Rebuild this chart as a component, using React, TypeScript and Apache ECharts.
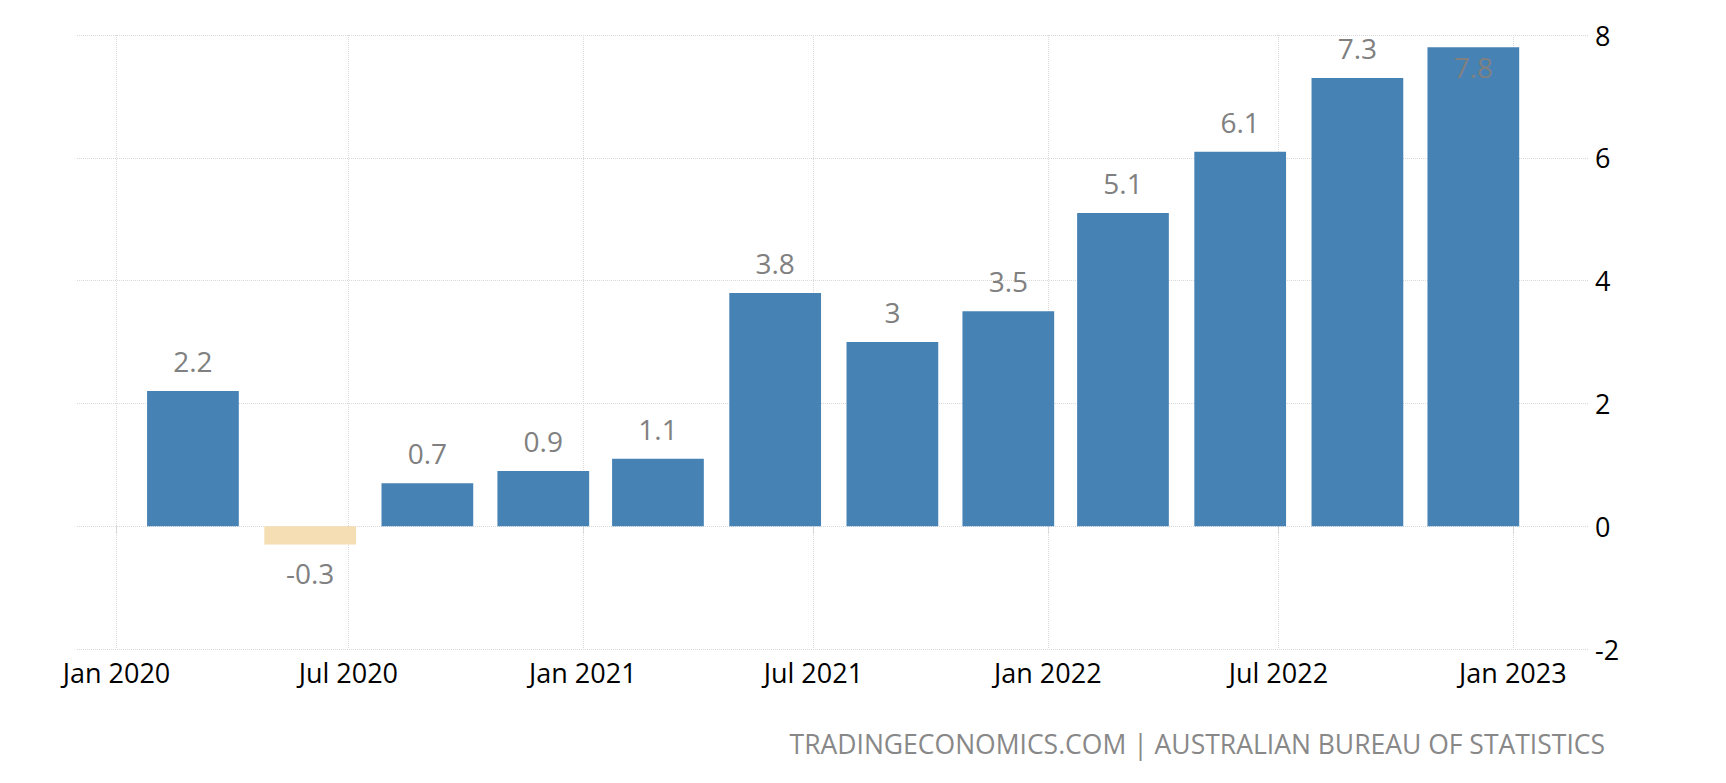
import { useEffect, useRef } from 'react';
import * as echarts from 'echarts';

// quarterly growth, bars sit on the first day of each quarter's last month
const quarters = [
  '2020-03', '2020-06', '2020-09', '2020-12',
  '2021-03', '2021-06', '2021-09', '2021-12',
  '2022-03', '2022-06', '2022-09', '2022-12',
];
const growth = [2.2, -0.3, 0.7, 0.9, 1.1, 3.8, 3.0, 3.5, 5.1, 6.1, 7.3, 7.8];

const xTickLabels = ['Jan 2020', 'Jul 2020', 'Jan 2021', 'Jul 2021', 'Jan 2022', 'Jul 2022', 'Jan 2023'];
const yTicks = [-2, 0, 2, 4, 6, 8];

const monthNames = ['Jan', 'Feb', 'Mar', 'Apr', 'May', 'Jun', 'Jul', 'Aug', 'Sep', 'Oct', 'Nov', 'Dec'];
const sourceText = 'TRADINGECONOMICS.COM | AUSTRALIAN BUREAU OF STATISTICS';

const FONT = '"Open Sans", "DejaVu Sans", sans-serif';

const toTime = (ym: string) => {
  const [y, m] = ym.split('-').map(Number);
  return new Date(y, m - 1, 1).getTime();
};

const tickToTime = (label: string) => {
  const [mon, year] = label.split(' ');
  return new Date(Number(year), monthNames.indexOf(mon), 1).getTime();
};

export default function App() {
  const chartRef = useRef<HTMLDivElement>(null);

  useEffect(() => {
    if (!chartRef.current) return;
    document.body.style.margin = '0';

    const yMax = yTicks[yTicks.length - 1];
    const tickValues = xTickLabels.map(tickToTime);
    const labelByTime = new Map<number, string>();
    tickValues.forEach((t, i) => labelByTime.set(t, xTickLabels[i]));

    const barData = quarters.map((q, i) => {
      const v = growth[i];
      // label that would overflow the plot goes inside the bar
      const inside = v + 0.6 > yMax;
      return {
        value: [toTime(q), v],
        itemStyle: { color: v < 0 ? '#f5deb3' : '#4682b4' },
        label: {
          position: v < 0 ? 'bottom' : inside ? 'insideTop' : 'top',
          distance: inside ? 6 : v < 0 ? 14 : 16,
        },
      };
    });

    const chart = echarts.init(chartRef.current, null, { renderer: 'svg' });
    chart.setOption({
      animation: false,
      backgroundColor: '#ffffff',
      grid: { left: 77, right: 138, top: 35, bottom: 134, containLabel: false },
      xAxis: {
        // milliseconds on a plain value axis, so ticks can sit on Jan / Jul
        type: 'value',
        min: new Date(2019, 11, 1).getTime(),
        max: new Date(2023, 2, 1).getTime(),
        axisLine: { show: false },
        axisTick: {
          show: true,
          customValues: tickValues,
          length: 7,
          lineStyle: { color: '#d6d6d6' },
        },
        axisLabel: {
          customValues: tickValues,
          margin: 10,
          color: '#000000',
          fontFamily: FONT,
          fontSize: 27,
          formatter: (value: number) => labelByTime.get(value) ?? '',
        },
        splitLine: {
          show: true,
          lineStyle: { color: '#d9d9d9', type: 'dotted', width: 1 },
        },
      },
      yAxis: {
        type: 'value',
        position: 'right',
        min: yTicks[0],
        max: yMax,
        interval: 2,
        axisLine: { show: false },
        axisTick: { show: false },
        axisLabel: {
          margin: 7,
          color: '#000000',
          fontFamily: FONT,
          fontSize: 27,
        },
        splitLine: {
          lineStyle: { color: '#d9d9d9', type: 'dotted', width: 1 },
        },
      },
      series: [
        {
          type: 'bar',
          barWidth: '80%',
          data: barData,
          label: {
            show: true,
            color: '#808080',
            fontFamily: FONT,
            fontSize: 28,
            formatter: (p: any) => String(p.value[1]),
          },
        },
      ],
      graphic: [
        {
          type: 'text',
          right: 121,
          top: 730,
          style: {
            text: sourceText,
            fill: '#888888',
            font: '26.5px ' + FONT,
          },
        },
      ],
    });

    return () => {
      chart.dispose();
    };
  }, []);

  return <div ref={chartRef} style={{ width: 1726, height: 783 }} />;
}
